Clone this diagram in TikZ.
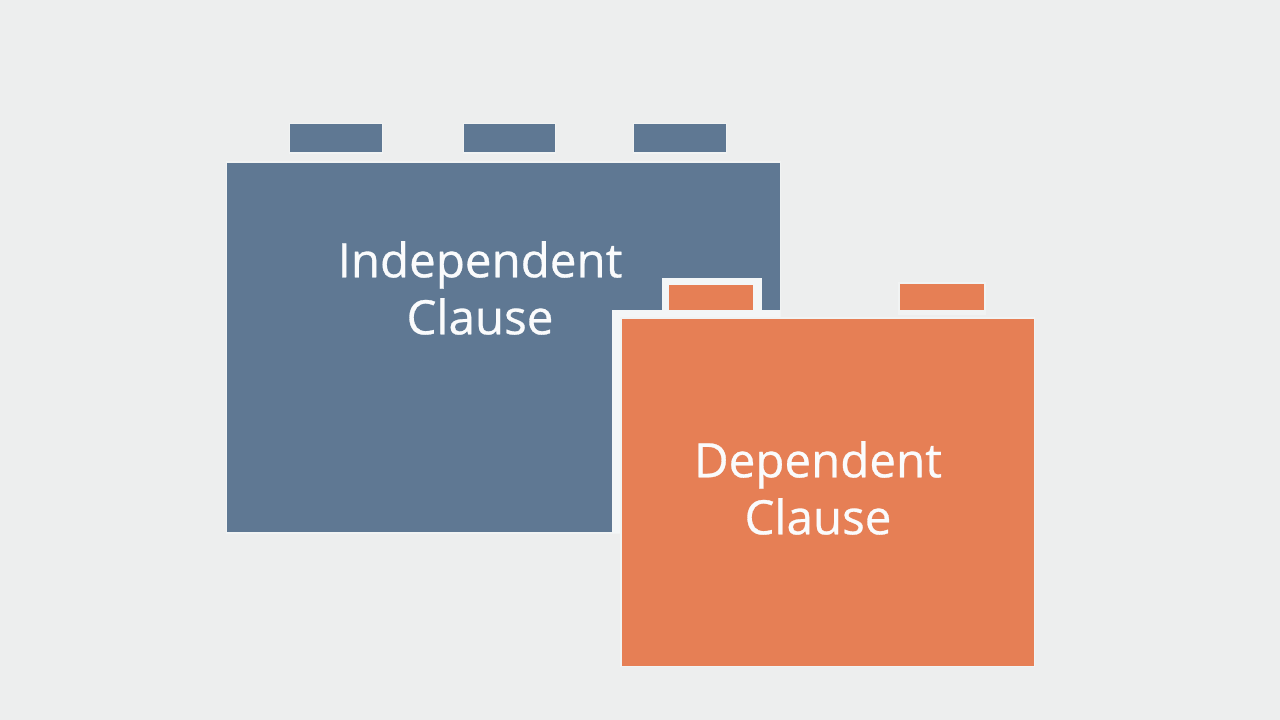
\documentclass[tikz,border=0pt]{standalone}
\usepackage{fontspec}
\setmainfont{Open Sans}
\newfontfamily\lblfont[FakeBold=0.6]{Open Sans}
\definecolor{bgc}{HTML}{EDEEEE}
\definecolor{slate}{HTML}{5F7893}
\definecolor{coral}{HTML}{E67F55}
\definecolor{halo}{HTML}{F3F6F7}
\definecolor{softhalo}{HTML}{F1F3F3}
\tikzset{
  cliptext/.style={text=white!97!slate,align=center,font=\lblfont\fontsize{47.5}{57}\selectfont,inner sep=0pt},
}
\begin{document}
\begin{tikzpicture}[x=1pt,y=-1pt]
\useasboundingbox[fill=bgc] (0,0) rectangle (1280,720);
% blue block
\fill[softhalo] (226,161) rectangle (781,533.5);
\fill[slate] (227,163) rectangle (780,532);
\foreach \a/\b in {290/381.5,464/555,633.5/725.5}{
  \fill[softhalo] (\a-1,122.5) rectangle (\b+1,153.5);
  \fill[slate] (\a,124) rectangle (\b,151.5);
}
\node[cliptext] (indep) at (480,288) {Independent\\Clause};
% orange block
\fill[halo] (662,278) rectangle (762,315);
\fill[halo] (612,310) rectangle (780,533);
\fill[softhalo] (898,282) rectangle (986,315);
\fill[coral] (669,285) rectangle (753,310);
\fill[coral] (900,284) rectangle (984,310);
\fill[softhalo] (620,316.5) rectangle (1034.5,666.5);
\fill[coral] (622,318.5) rectangle (1033.5,665.5);
\node[cliptext] (dep) at (818,488) {Dependent\\Clause};
\end{tikzpicture}
\end{document}
